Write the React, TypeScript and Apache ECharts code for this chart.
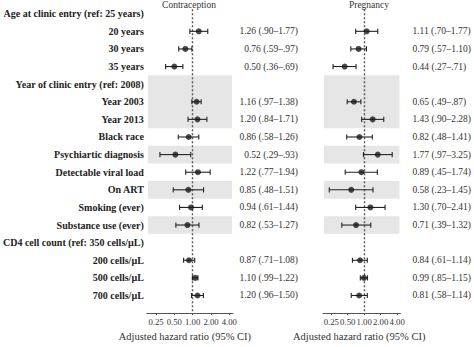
import React, { useEffect, useRef } from "react";
import * as echarts from "echarts";

const rowLabels = [
  "Age at clinic entry (ref: 25 years)",
  "20 years",
  "30 years",
  "35 years",
  "Year of clinic entry (ref: 2008)",
  "Year 2003",
  "Year 2013",
  "Black race",
  "Psychiartic diagnosis",
  "Detectable viral load",
  "On ART",
  "Smoking (ever)",
  "Substance use (ever)",
  "CD4 cell count (ref: 350 cells/µL)",
  "200 cells/µL",
  "500 cells/µL",
  "700 cells/µL",
];

const contraHR = [null, 1.26, 0.76, 0.5, null, 1.16, 1.2, 0.86, 0.52, 1.22, 0.85, 0.94, 0.82, null, 0.87, 1.1, 1.2];
const contraLo = [null, 0.9, 0.59, 0.36, null, 0.97, 0.84, 0.58, 0.29, 0.77, 0.48, 0.61, 0.53, null, 0.71, 0.99, 0.96];
const contraHi = [null, 1.77, 0.97, 0.69, null, 1.38, 1.71, 1.26, 0.93, 1.94, 1.51, 1.44, 1.27, null, 1.08, 1.22, 1.5];

const pregHR = [null, 1.11, 0.79, 0.44, null, 0.65, 1.43, 0.82, 1.77, 0.89, 0.58, 1.3, 0.71, null, 0.84, 0.99, 0.81];
const pregLo = [null, 0.7, 0.57, 0.27, null, 0.49, 0.9, 0.48, 0.97, 0.45, 0.23, 0.7, 0.39, null, 0.61, 0.85, 0.58];
const pregHi = [null, 1.77, 1.1, 0.71, null, 0.87, 2.28, 1.41, 3.25, 1.74, 1.45, 2.41, 1.32, null, 1.14, 1.15, 1.14];

const shadedGroups = [
  [4, 6],
  [8, 8],
  [10, 10],
  [12, 12],
];

const tickValues = [0.25, 0.5, 1, 2, 4];
const panelTitles = ["Contraception", "Pregnancy"];
const axisTitle = "Adjusted hazard ratio (95% CI)";

const FONT = "'Liberation Serif', 'DejaVu Serif', serif";

function ciNum(v: number): string {
  const s = v.toFixed(2);
  return v < 1 ? s.slice(1) : s;
}

function ciText(hr: number[], lo: number[], hi: number[], i: number): string {
  if (hr[i] == null) return "";
  return `${hr[i].toFixed(2)} (${ciNum(lo[i])}–${ciNum(hi[i])})`;
}

export default function App() {
  const ref = useRef<HTMLDivElement>(null);
  useEffect(() => {
    if (!ref.current) return;
    const chart = echarts.init(ref.current, null, { renderer: "svg" });
    const rowIdx = rowLabels.map((_, i) => i);
    const panels = [
      { hr: contraHR, lo: contraLo, hi: contraHi },
      { hr: pregHR, lo: pregLo, hi: pregHi },
    ];
    const logTicks = tickValues.map((v) => Math.log2(v));
    const namePad = [
      [0, 10, 0, 0],
      [0, 5, 0, 0],
    ];

    const xAxes = panels.map((_, p) => ({
      gridIndex: p,
      type: "value",
      min: -2.5,
      max: 2.2,
      name: axisTitle,
      nameLocation: "middle",
      nameGap: 12,
      nameTextStyle: { fontFamily: FONT, fontSize: 10.5, color: "#333", padding: namePad[p] },
      axisLine: { show: true, onZero: false, lineStyle: { color: "#555", width: 1 } },
      axisTick: { show: true, length: 2, customValues: logTicks, lineStyle: { color: "#555" } },
      axisLabel: {
        customValues: logTicks,
        formatter: (v: number) => Math.pow(2, v).toFixed(2),
        fontFamily: FONT,
        fontSize: 8.7,
        color: "#333",
        margin: 4,
      },
      splitLine: { show: false },
    }));

    const baseY = {
      type: "value",
      min: -0.5,
      max: 17,
      inverse: true,
      axisLine: { show: false },
      axisTick: { show: false },
      splitLine: { show: false },
    };

    const yAxes: any[] = [
      {
        ...baseY,
        gridIndex: 0,
        position: "left",
        axisLabel: {
          customValues: rowIdx,
          formatter: (v: number) => rowLabels[Math.round(v)],
          fontFamily: FONT,
          fontSize: 10,
          fontWeight: "bold",
          color: "#222",
          margin: 3,
        },
      },
      {
        ...baseY,
        gridIndex: 0,
        position: "right",
        axisLabel: {
          customValues: rowIdx.filter((i) => contraHR[i] != null),
          formatter: (v: number) => ciText(contraHR as number[], contraLo as number[], contraHi as number[], Math.round(v)),
          fontFamily: FONT,
          fontSize: 9.5,
          color: "#333",
          align: "right",
          margin: 65,
        },
      },
      {
        ...baseY,
        gridIndex: 1,
        position: "left",
        axisLabel: { show: false },
      },
      {
        ...baseY,
        gridIndex: 1,
        position: "right",
        axisLabel: {
          customValues: rowIdx.filter((i) => pregHR[i] != null),
          formatter: (v: number) => ciText(pregHR as number[], pregLo as number[], pregHi as number[], Math.round(v)),
          fontFamily: FONT,
          fontSize: 9.5,
          color: "#333",
          align: "left",
          margin: 12,
        },
      },
    ];

    const series: any[] = [];
    panels.forEach((pd, p) => {
      const yIdx = p === 0 ? 0 : 2;
      series.push({
        type: "custom",
        xAxisIndex: p,
        yAxisIndex: yIdx,
        silent: true,
        z: 1,
        data: shadedGroups.map((g) => [0, g[0], g[1]]),
        renderItem: (params: any, api: any) => {
          const cs = params.coordSys;
          const y0 = api.coord([0, api.value(1) - 0.5])[1];
          const y1 = api.coord([0, api.value(2) + 0.5])[1];
          return {
            type: "rect",
            shape: { x: cs.x + 1, y: y0, width: cs.width - 2, height: y1 - y0 },
            style: { fill: "#e6e6e6" },
          };
        },
      });
      const errData = rowIdx
        .filter((i) => pd.hr[i] != null)
        .map((i) => [Math.log2(pd.lo[i] as number), Math.log2(pd.hi[i] as number), i]);
      series.push({
        type: "custom",
        xAxisIndex: p,
        yAxisIndex: yIdx,
        silent: true,
        z: 3,
        data: errData,
        renderItem: (params: any, api: any) => {
          const a = api.coord([api.value(0), api.value(2)]);
          const b = api.coord([api.value(1), api.value(2)]);
          const h = 2.6;
          const st = { stroke: "#222", lineWidth: 1.1 };
          return {
            type: "group",
            children: [
              { type: "line", shape: { x1: a[0], y1: a[1], x2: b[0], y2: b[1] }, style: st },
              { type: "line", shape: { x1: a[0], y1: a[1] - h, x2: a[0], y2: a[1] + h }, style: st },
              { type: "line", shape: { x1: b[0], y1: b[1] - h, x2: b[0], y2: b[1] + h }, style: st },
            ],
          };
        },
      });
      series.push({
        type: "scatter",
        xAxisIndex: p,
        yAxisIndex: yIdx,
        silent: true,
        z: 4,
        symbol: "circle",
        symbolSize: 6,
        itemStyle: { color: "#1a1a1a" },
        data: rowIdx.filter((i) => pd.hr[i] != null).map((i) => [Math.log2(pd.hr[i] as number), i]),
        markLine: {
          silent: true,
          symbol: "none",
          label: { show: false },
          lineStyle: { type: [2, 2], color: "#555", width: 1.4 },
          z: 2,
          data: [[{ coord: [0, -0.25] }, { coord: [0, 17] }]],
        },
      });
    });

    chart.setOption({
      animation: false,
      grid: [
        { left: 139, top: 4.9, width: 94, height: 319 },
        { left: 323, top: 4.9, width: 85, height: 319 },
      ],
      xAxis: xAxes,
      yAxis: yAxes,
      graphic: [
        {
          type: "text",
          x: 189,
          y: 5,
          style: { text: panelTitles[0], font: `9.5px ${FONT}`, fill: "#333", textAlign: "center", textVerticalAlign: "middle" },
        },
        {
          type: "text",
          x: 369,
          y: 5,
          style: { text: panelTitles[1], font: `9.5px ${FONT}`, fill: "#333", textAlign: "center", textVerticalAlign: "middle" },
        },
      ],
      series,
    });
    return () => chart.dispose();
  }, []);
  return <div ref={ref} style={{ position: "fixed", left: 0, top: 0, width: 474, height: 347, background: "#fff" }} />;
}
